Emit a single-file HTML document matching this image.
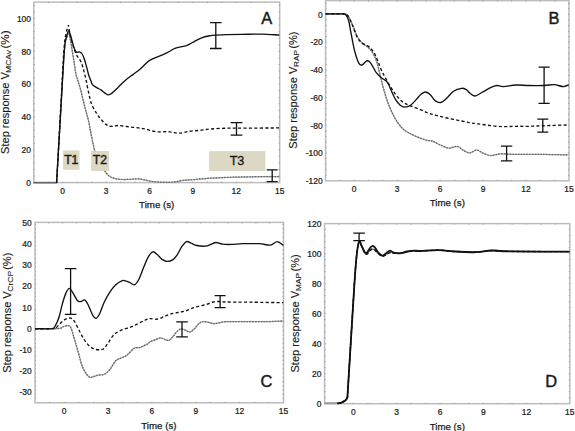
<!DOCTYPE html>
<html><head><meta charset="utf-8"><title>Step responses</title>
<style>
html,body{margin:0;padding:0;background:#fff;}
body{width:575px;height:431px;overflow:hidden;}
svg{display:block;font-family:"Liberation Sans",sans-serif;fill:#111;}
svg text{fill:#1a1a1a;stroke:#1a1a1a;stroke-width:0.25px;}
</style></head><body>
<svg width="575" height="431" viewBox="0 0 575 431">
<rect width="575" height="431" fill="#fff"/>
<rect x="33.8" y="2.1" width="245.9" height="180.5" fill="none" stroke="#bcbcbc" stroke-width="1.5"/>
<line x1="48.3" y1="182.6" x2="48.3" y2="181.6" stroke="#9a9a9a" stroke-width="1"/>
<line x1="62.7" y1="182.6" x2="62.7" y2="181.6" stroke="#9a9a9a" stroke-width="1"/>
<line x1="77.2" y1="182.6" x2="77.2" y2="181.6" stroke="#9a9a9a" stroke-width="1"/>
<line x1="91.7" y1="182.6" x2="91.7" y2="181.6" stroke="#9a9a9a" stroke-width="1"/>
<line x1="106.1" y1="182.6" x2="106.1" y2="181.6" stroke="#9a9a9a" stroke-width="1"/>
<line x1="120.6" y1="182.6" x2="120.6" y2="181.6" stroke="#9a9a9a" stroke-width="1"/>
<line x1="135.1" y1="182.6" x2="135.1" y2="181.6" stroke="#9a9a9a" stroke-width="1"/>
<line x1="149.5" y1="182.6" x2="149.5" y2="181.6" stroke="#9a9a9a" stroke-width="1"/>
<line x1="164.0" y1="182.6" x2="164.0" y2="181.6" stroke="#9a9a9a" stroke-width="1"/>
<line x1="178.4" y1="182.6" x2="178.4" y2="181.6" stroke="#9a9a9a" stroke-width="1"/>
<line x1="192.9" y1="182.6" x2="192.9" y2="181.6" stroke="#9a9a9a" stroke-width="1"/>
<line x1="207.4" y1="182.6" x2="207.4" y2="181.6" stroke="#9a9a9a" stroke-width="1"/>
<line x1="221.8" y1="182.6" x2="221.8" y2="181.6" stroke="#9a9a9a" stroke-width="1"/>
<line x1="236.3" y1="182.6" x2="236.3" y2="181.6" stroke="#9a9a9a" stroke-width="1"/>
<line x1="250.8" y1="182.6" x2="250.8" y2="181.6" stroke="#9a9a9a" stroke-width="1"/>
<line x1="265.2" y1="182.6" x2="265.2" y2="181.6" stroke="#9a9a9a" stroke-width="1"/>
<line x1="48.3" y1="2.1" x2="48.3" y2="3.1" stroke="#9a9a9a" stroke-width="1"/>
<line x1="62.7" y1="2.1" x2="62.7" y2="3.1" stroke="#9a9a9a" stroke-width="1"/>
<line x1="77.2" y1="2.1" x2="77.2" y2="3.1" stroke="#9a9a9a" stroke-width="1"/>
<line x1="91.7" y1="2.1" x2="91.7" y2="3.1" stroke="#9a9a9a" stroke-width="1"/>
<line x1="106.1" y1="2.1" x2="106.1" y2="3.1" stroke="#9a9a9a" stroke-width="1"/>
<line x1="120.6" y1="2.1" x2="120.6" y2="3.1" stroke="#9a9a9a" stroke-width="1"/>
<line x1="135.1" y1="2.1" x2="135.1" y2="3.1" stroke="#9a9a9a" stroke-width="1"/>
<line x1="149.5" y1="2.1" x2="149.5" y2="3.1" stroke="#9a9a9a" stroke-width="1"/>
<line x1="164.0" y1="2.1" x2="164.0" y2="3.1" stroke="#9a9a9a" stroke-width="1"/>
<line x1="178.4" y1="2.1" x2="178.4" y2="3.1" stroke="#9a9a9a" stroke-width="1"/>
<line x1="192.9" y1="2.1" x2="192.9" y2="3.1" stroke="#9a9a9a" stroke-width="1"/>
<line x1="207.4" y1="2.1" x2="207.4" y2="3.1" stroke="#9a9a9a" stroke-width="1"/>
<line x1="221.8" y1="2.1" x2="221.8" y2="3.1" stroke="#9a9a9a" stroke-width="1"/>
<line x1="236.3" y1="2.1" x2="236.3" y2="3.1" stroke="#9a9a9a" stroke-width="1"/>
<line x1="250.8" y1="2.1" x2="250.8" y2="3.1" stroke="#9a9a9a" stroke-width="1"/>
<line x1="265.2" y1="2.1" x2="265.2" y2="3.1" stroke="#9a9a9a" stroke-width="1"/>
<line x1="33.8" y1="176.0" x2="34.8" y2="176.0" stroke="#9a9a9a" stroke-width="1"/>
<line x1="279.7" y1="176.0" x2="278.7" y2="176.0" stroke="#9a9a9a" stroke-width="1"/>
<line x1="33.8" y1="169.5" x2="34.8" y2="169.5" stroke="#9a9a9a" stroke-width="1"/>
<line x1="279.7" y1="169.5" x2="278.7" y2="169.5" stroke="#9a9a9a" stroke-width="1"/>
<line x1="33.8" y1="162.9" x2="34.8" y2="162.9" stroke="#9a9a9a" stroke-width="1"/>
<line x1="279.7" y1="162.9" x2="278.7" y2="162.9" stroke="#9a9a9a" stroke-width="1"/>
<line x1="33.8" y1="156.3" x2="34.8" y2="156.3" stroke="#9a9a9a" stroke-width="1"/>
<line x1="279.7" y1="156.3" x2="278.7" y2="156.3" stroke="#9a9a9a" stroke-width="1"/>
<line x1="33.8" y1="149.8" x2="34.8" y2="149.8" stroke="#9a9a9a" stroke-width="1"/>
<line x1="279.7" y1="149.8" x2="278.7" y2="149.8" stroke="#9a9a9a" stroke-width="1"/>
<line x1="33.8" y1="143.2" x2="34.8" y2="143.2" stroke="#9a9a9a" stroke-width="1"/>
<line x1="279.7" y1="143.2" x2="278.7" y2="143.2" stroke="#9a9a9a" stroke-width="1"/>
<line x1="33.8" y1="136.7" x2="34.8" y2="136.7" stroke="#9a9a9a" stroke-width="1"/>
<line x1="279.7" y1="136.7" x2="278.7" y2="136.7" stroke="#9a9a9a" stroke-width="1"/>
<line x1="33.8" y1="130.1" x2="34.8" y2="130.1" stroke="#9a9a9a" stroke-width="1"/>
<line x1="279.7" y1="130.1" x2="278.7" y2="130.1" stroke="#9a9a9a" stroke-width="1"/>
<line x1="33.8" y1="123.5" x2="34.8" y2="123.5" stroke="#9a9a9a" stroke-width="1"/>
<line x1="279.7" y1="123.5" x2="278.7" y2="123.5" stroke="#9a9a9a" stroke-width="1"/>
<line x1="33.8" y1="117.0" x2="34.8" y2="117.0" stroke="#9a9a9a" stroke-width="1"/>
<line x1="279.7" y1="117.0" x2="278.7" y2="117.0" stroke="#9a9a9a" stroke-width="1"/>
<line x1="33.8" y1="110.4" x2="34.8" y2="110.4" stroke="#9a9a9a" stroke-width="1"/>
<line x1="279.7" y1="110.4" x2="278.7" y2="110.4" stroke="#9a9a9a" stroke-width="1"/>
<line x1="33.8" y1="103.8" x2="34.8" y2="103.8" stroke="#9a9a9a" stroke-width="1"/>
<line x1="279.7" y1="103.8" x2="278.7" y2="103.8" stroke="#9a9a9a" stroke-width="1"/>
<line x1="33.8" y1="97.3" x2="34.8" y2="97.3" stroke="#9a9a9a" stroke-width="1"/>
<line x1="279.7" y1="97.3" x2="278.7" y2="97.3" stroke="#9a9a9a" stroke-width="1"/>
<line x1="33.8" y1="90.7" x2="34.8" y2="90.7" stroke="#9a9a9a" stroke-width="1"/>
<line x1="279.7" y1="90.7" x2="278.7" y2="90.7" stroke="#9a9a9a" stroke-width="1"/>
<line x1="33.8" y1="84.1" x2="34.8" y2="84.1" stroke="#9a9a9a" stroke-width="1"/>
<line x1="279.7" y1="84.1" x2="278.7" y2="84.1" stroke="#9a9a9a" stroke-width="1"/>
<line x1="33.8" y1="77.6" x2="34.8" y2="77.6" stroke="#9a9a9a" stroke-width="1"/>
<line x1="279.7" y1="77.6" x2="278.7" y2="77.6" stroke="#9a9a9a" stroke-width="1"/>
<line x1="33.8" y1="71.0" x2="34.8" y2="71.0" stroke="#9a9a9a" stroke-width="1"/>
<line x1="279.7" y1="71.0" x2="278.7" y2="71.0" stroke="#9a9a9a" stroke-width="1"/>
<line x1="33.8" y1="64.5" x2="34.8" y2="64.5" stroke="#9a9a9a" stroke-width="1"/>
<line x1="279.7" y1="64.5" x2="278.7" y2="64.5" stroke="#9a9a9a" stroke-width="1"/>
<line x1="33.8" y1="57.9" x2="34.8" y2="57.9" stroke="#9a9a9a" stroke-width="1"/>
<line x1="279.7" y1="57.9" x2="278.7" y2="57.9" stroke="#9a9a9a" stroke-width="1"/>
<line x1="33.8" y1="51.3" x2="34.8" y2="51.3" stroke="#9a9a9a" stroke-width="1"/>
<line x1="279.7" y1="51.3" x2="278.7" y2="51.3" stroke="#9a9a9a" stroke-width="1"/>
<line x1="33.8" y1="44.8" x2="34.8" y2="44.8" stroke="#9a9a9a" stroke-width="1"/>
<line x1="279.7" y1="44.8" x2="278.7" y2="44.8" stroke="#9a9a9a" stroke-width="1"/>
<line x1="33.8" y1="38.2" x2="34.8" y2="38.2" stroke="#9a9a9a" stroke-width="1"/>
<line x1="279.7" y1="38.2" x2="278.7" y2="38.2" stroke="#9a9a9a" stroke-width="1"/>
<line x1="33.8" y1="31.6" x2="34.8" y2="31.6" stroke="#9a9a9a" stroke-width="1"/>
<line x1="279.7" y1="31.6" x2="278.7" y2="31.6" stroke="#9a9a9a" stroke-width="1"/>
<line x1="33.8" y1="25.1" x2="34.8" y2="25.1" stroke="#9a9a9a" stroke-width="1"/>
<line x1="279.7" y1="25.1" x2="278.7" y2="25.1" stroke="#9a9a9a" stroke-width="1"/>
<line x1="33.8" y1="18.5" x2="34.8" y2="18.5" stroke="#9a9a9a" stroke-width="1"/>
<line x1="279.7" y1="18.5" x2="278.7" y2="18.5" stroke="#9a9a9a" stroke-width="1"/>
<line x1="33.8" y1="11.9" x2="34.8" y2="11.9" stroke="#9a9a9a" stroke-width="1"/>
<line x1="279.7" y1="11.9" x2="278.7" y2="11.9" stroke="#9a9a9a" stroke-width="1"/>
<line x1="33.8" y1="5.4" x2="34.8" y2="5.4" stroke="#9a9a9a" stroke-width="1"/>
<line x1="279.7" y1="5.4" x2="278.7" y2="5.4" stroke="#9a9a9a" stroke-width="1"/>
<rect x="325.6" y="0.6" width="243.4" height="180.2" fill="none" stroke="#bcbcbc" stroke-width="1.5"/>
<line x1="339.9" y1="180.8" x2="339.9" y2="179.8" stroke="#9a9a9a" stroke-width="1"/>
<line x1="354.2" y1="180.8" x2="354.2" y2="179.8" stroke="#9a9a9a" stroke-width="1"/>
<line x1="368.6" y1="180.8" x2="368.6" y2="179.8" stroke="#9a9a9a" stroke-width="1"/>
<line x1="382.9" y1="180.8" x2="382.9" y2="179.8" stroke="#9a9a9a" stroke-width="1"/>
<line x1="397.2" y1="180.8" x2="397.2" y2="179.8" stroke="#9a9a9a" stroke-width="1"/>
<line x1="411.5" y1="180.8" x2="411.5" y2="179.8" stroke="#9a9a9a" stroke-width="1"/>
<line x1="425.8" y1="180.8" x2="425.8" y2="179.8" stroke="#9a9a9a" stroke-width="1"/>
<line x1="440.1" y1="180.8" x2="440.1" y2="179.8" stroke="#9a9a9a" stroke-width="1"/>
<line x1="454.5" y1="180.8" x2="454.5" y2="179.8" stroke="#9a9a9a" stroke-width="1"/>
<line x1="468.8" y1="180.8" x2="468.8" y2="179.8" stroke="#9a9a9a" stroke-width="1"/>
<line x1="483.1" y1="180.8" x2="483.1" y2="179.8" stroke="#9a9a9a" stroke-width="1"/>
<line x1="497.4" y1="180.8" x2="497.4" y2="179.8" stroke="#9a9a9a" stroke-width="1"/>
<line x1="511.7" y1="180.8" x2="511.7" y2="179.8" stroke="#9a9a9a" stroke-width="1"/>
<line x1="526.0" y1="180.8" x2="526.0" y2="179.8" stroke="#9a9a9a" stroke-width="1"/>
<line x1="540.4" y1="180.8" x2="540.4" y2="179.8" stroke="#9a9a9a" stroke-width="1"/>
<line x1="554.7" y1="180.8" x2="554.7" y2="179.8" stroke="#9a9a9a" stroke-width="1"/>
<line x1="339.9" y1="0.6" x2="339.9" y2="1.6" stroke="#9a9a9a" stroke-width="1"/>
<line x1="354.2" y1="0.6" x2="354.2" y2="1.6" stroke="#9a9a9a" stroke-width="1"/>
<line x1="368.6" y1="0.6" x2="368.6" y2="1.6" stroke="#9a9a9a" stroke-width="1"/>
<line x1="382.9" y1="0.6" x2="382.9" y2="1.6" stroke="#9a9a9a" stroke-width="1"/>
<line x1="397.2" y1="0.6" x2="397.2" y2="1.6" stroke="#9a9a9a" stroke-width="1"/>
<line x1="411.5" y1="0.6" x2="411.5" y2="1.6" stroke="#9a9a9a" stroke-width="1"/>
<line x1="425.8" y1="0.6" x2="425.8" y2="1.6" stroke="#9a9a9a" stroke-width="1"/>
<line x1="440.1" y1="0.6" x2="440.1" y2="1.6" stroke="#9a9a9a" stroke-width="1"/>
<line x1="454.5" y1="0.6" x2="454.5" y2="1.6" stroke="#9a9a9a" stroke-width="1"/>
<line x1="468.8" y1="0.6" x2="468.8" y2="1.6" stroke="#9a9a9a" stroke-width="1"/>
<line x1="483.1" y1="0.6" x2="483.1" y2="1.6" stroke="#9a9a9a" stroke-width="1"/>
<line x1="497.4" y1="0.6" x2="497.4" y2="1.6" stroke="#9a9a9a" stroke-width="1"/>
<line x1="511.7" y1="0.6" x2="511.7" y2="1.6" stroke="#9a9a9a" stroke-width="1"/>
<line x1="526.0" y1="0.6" x2="526.0" y2="1.6" stroke="#9a9a9a" stroke-width="1"/>
<line x1="540.4" y1="0.6" x2="540.4" y2="1.6" stroke="#9a9a9a" stroke-width="1"/>
<line x1="554.7" y1="0.6" x2="554.7" y2="1.6" stroke="#9a9a9a" stroke-width="1"/>
<line x1="325.6" y1="175.3" x2="326.6" y2="175.3" stroke="#9a9a9a" stroke-width="1"/>
<line x1="569.0" y1="175.3" x2="568.0" y2="175.3" stroke="#9a9a9a" stroke-width="1"/>
<line x1="325.6" y1="169.7" x2="326.6" y2="169.7" stroke="#9a9a9a" stroke-width="1"/>
<line x1="569.0" y1="169.7" x2="568.0" y2="169.7" stroke="#9a9a9a" stroke-width="1"/>
<line x1="325.6" y1="164.2" x2="326.6" y2="164.2" stroke="#9a9a9a" stroke-width="1"/>
<line x1="569.0" y1="164.2" x2="568.0" y2="164.2" stroke="#9a9a9a" stroke-width="1"/>
<line x1="325.6" y1="158.6" x2="326.6" y2="158.6" stroke="#9a9a9a" stroke-width="1"/>
<line x1="569.0" y1="158.6" x2="568.0" y2="158.6" stroke="#9a9a9a" stroke-width="1"/>
<line x1="325.6" y1="153.1" x2="326.6" y2="153.1" stroke="#9a9a9a" stroke-width="1"/>
<line x1="569.0" y1="153.1" x2="568.0" y2="153.1" stroke="#9a9a9a" stroke-width="1"/>
<line x1="325.6" y1="147.5" x2="326.6" y2="147.5" stroke="#9a9a9a" stroke-width="1"/>
<line x1="569.0" y1="147.5" x2="568.0" y2="147.5" stroke="#9a9a9a" stroke-width="1"/>
<line x1="325.6" y1="142.0" x2="326.6" y2="142.0" stroke="#9a9a9a" stroke-width="1"/>
<line x1="569.0" y1="142.0" x2="568.0" y2="142.0" stroke="#9a9a9a" stroke-width="1"/>
<line x1="325.6" y1="136.4" x2="326.6" y2="136.4" stroke="#9a9a9a" stroke-width="1"/>
<line x1="569.0" y1="136.4" x2="568.0" y2="136.4" stroke="#9a9a9a" stroke-width="1"/>
<line x1="325.6" y1="130.9" x2="326.6" y2="130.9" stroke="#9a9a9a" stroke-width="1"/>
<line x1="569.0" y1="130.9" x2="568.0" y2="130.9" stroke="#9a9a9a" stroke-width="1"/>
<line x1="325.6" y1="125.4" x2="326.6" y2="125.4" stroke="#9a9a9a" stroke-width="1"/>
<line x1="569.0" y1="125.4" x2="568.0" y2="125.4" stroke="#9a9a9a" stroke-width="1"/>
<line x1="325.6" y1="119.8" x2="326.6" y2="119.8" stroke="#9a9a9a" stroke-width="1"/>
<line x1="569.0" y1="119.8" x2="568.0" y2="119.8" stroke="#9a9a9a" stroke-width="1"/>
<line x1="325.6" y1="114.3" x2="326.6" y2="114.3" stroke="#9a9a9a" stroke-width="1"/>
<line x1="569.0" y1="114.3" x2="568.0" y2="114.3" stroke="#9a9a9a" stroke-width="1"/>
<line x1="325.6" y1="108.7" x2="326.6" y2="108.7" stroke="#9a9a9a" stroke-width="1"/>
<line x1="569.0" y1="108.7" x2="568.0" y2="108.7" stroke="#9a9a9a" stroke-width="1"/>
<line x1="325.6" y1="103.2" x2="326.6" y2="103.2" stroke="#9a9a9a" stroke-width="1"/>
<line x1="569.0" y1="103.2" x2="568.0" y2="103.2" stroke="#9a9a9a" stroke-width="1"/>
<line x1="325.6" y1="97.6" x2="326.6" y2="97.6" stroke="#9a9a9a" stroke-width="1"/>
<line x1="569.0" y1="97.6" x2="568.0" y2="97.6" stroke="#9a9a9a" stroke-width="1"/>
<line x1="325.6" y1="92.1" x2="326.6" y2="92.1" stroke="#9a9a9a" stroke-width="1"/>
<line x1="569.0" y1="92.1" x2="568.0" y2="92.1" stroke="#9a9a9a" stroke-width="1"/>
<line x1="325.6" y1="86.5" x2="326.6" y2="86.5" stroke="#9a9a9a" stroke-width="1"/>
<line x1="569.0" y1="86.5" x2="568.0" y2="86.5" stroke="#9a9a9a" stroke-width="1"/>
<line x1="325.6" y1="81.0" x2="326.6" y2="81.0" stroke="#9a9a9a" stroke-width="1"/>
<line x1="569.0" y1="81.0" x2="568.0" y2="81.0" stroke="#9a9a9a" stroke-width="1"/>
<line x1="325.6" y1="75.5" x2="326.6" y2="75.5" stroke="#9a9a9a" stroke-width="1"/>
<line x1="569.0" y1="75.5" x2="568.0" y2="75.5" stroke="#9a9a9a" stroke-width="1"/>
<line x1="325.6" y1="69.9" x2="326.6" y2="69.9" stroke="#9a9a9a" stroke-width="1"/>
<line x1="569.0" y1="69.9" x2="568.0" y2="69.9" stroke="#9a9a9a" stroke-width="1"/>
<line x1="325.6" y1="64.4" x2="326.6" y2="64.4" stroke="#9a9a9a" stroke-width="1"/>
<line x1="569.0" y1="64.4" x2="568.0" y2="64.4" stroke="#9a9a9a" stroke-width="1"/>
<line x1="325.6" y1="58.8" x2="326.6" y2="58.8" stroke="#9a9a9a" stroke-width="1"/>
<line x1="569.0" y1="58.8" x2="568.0" y2="58.8" stroke="#9a9a9a" stroke-width="1"/>
<line x1="325.6" y1="53.3" x2="326.6" y2="53.3" stroke="#9a9a9a" stroke-width="1"/>
<line x1="569.0" y1="53.3" x2="568.0" y2="53.3" stroke="#9a9a9a" stroke-width="1"/>
<line x1="325.6" y1="47.7" x2="326.6" y2="47.7" stroke="#9a9a9a" stroke-width="1"/>
<line x1="569.0" y1="47.7" x2="568.0" y2="47.7" stroke="#9a9a9a" stroke-width="1"/>
<line x1="325.6" y1="42.2" x2="326.6" y2="42.2" stroke="#9a9a9a" stroke-width="1"/>
<line x1="569.0" y1="42.2" x2="568.0" y2="42.2" stroke="#9a9a9a" stroke-width="1"/>
<line x1="325.6" y1="36.6" x2="326.6" y2="36.6" stroke="#9a9a9a" stroke-width="1"/>
<line x1="569.0" y1="36.6" x2="568.0" y2="36.6" stroke="#9a9a9a" stroke-width="1"/>
<line x1="325.6" y1="31.1" x2="326.6" y2="31.1" stroke="#9a9a9a" stroke-width="1"/>
<line x1="569.0" y1="31.1" x2="568.0" y2="31.1" stroke="#9a9a9a" stroke-width="1"/>
<line x1="325.6" y1="25.6" x2="326.6" y2="25.6" stroke="#9a9a9a" stroke-width="1"/>
<line x1="569.0" y1="25.6" x2="568.0" y2="25.6" stroke="#9a9a9a" stroke-width="1"/>
<line x1="325.6" y1="20.0" x2="326.6" y2="20.0" stroke="#9a9a9a" stroke-width="1"/>
<line x1="569.0" y1="20.0" x2="568.0" y2="20.0" stroke="#9a9a9a" stroke-width="1"/>
<line x1="325.6" y1="14.5" x2="326.6" y2="14.5" stroke="#9a9a9a" stroke-width="1"/>
<line x1="569.0" y1="14.5" x2="568.0" y2="14.5" stroke="#9a9a9a" stroke-width="1"/>
<line x1="325.6" y1="8.9" x2="326.6" y2="8.9" stroke="#9a9a9a" stroke-width="1"/>
<line x1="569.0" y1="8.9" x2="568.0" y2="8.9" stroke="#9a9a9a" stroke-width="1"/>
<line x1="325.6" y1="3.4" x2="326.6" y2="3.4" stroke="#9a9a9a" stroke-width="1"/>
<line x1="569.0" y1="3.4" x2="568.0" y2="3.4" stroke="#9a9a9a" stroke-width="1"/>
<rect x="35.0" y="222.4" width="248.5" height="180.4" fill="none" stroke="#bcbcbc" stroke-width="1.5"/>
<line x1="49.6" y1="402.8" x2="49.6" y2="401.8" stroke="#9a9a9a" stroke-width="1"/>
<line x1="64.2" y1="402.8" x2="64.2" y2="401.8" stroke="#9a9a9a" stroke-width="1"/>
<line x1="78.9" y1="402.8" x2="78.9" y2="401.8" stroke="#9a9a9a" stroke-width="1"/>
<line x1="93.5" y1="402.8" x2="93.5" y2="401.8" stroke="#9a9a9a" stroke-width="1"/>
<line x1="108.1" y1="402.8" x2="108.1" y2="401.8" stroke="#9a9a9a" stroke-width="1"/>
<line x1="122.7" y1="402.8" x2="122.7" y2="401.8" stroke="#9a9a9a" stroke-width="1"/>
<line x1="137.3" y1="402.8" x2="137.3" y2="401.8" stroke="#9a9a9a" stroke-width="1"/>
<line x1="151.9" y1="402.8" x2="151.9" y2="401.8" stroke="#9a9a9a" stroke-width="1"/>
<line x1="166.6" y1="402.8" x2="166.6" y2="401.8" stroke="#9a9a9a" stroke-width="1"/>
<line x1="181.2" y1="402.8" x2="181.2" y2="401.8" stroke="#9a9a9a" stroke-width="1"/>
<line x1="195.8" y1="402.8" x2="195.8" y2="401.8" stroke="#9a9a9a" stroke-width="1"/>
<line x1="210.4" y1="402.8" x2="210.4" y2="401.8" stroke="#9a9a9a" stroke-width="1"/>
<line x1="225.0" y1="402.8" x2="225.0" y2="401.8" stroke="#9a9a9a" stroke-width="1"/>
<line x1="239.6" y1="402.8" x2="239.6" y2="401.8" stroke="#9a9a9a" stroke-width="1"/>
<line x1="254.3" y1="402.8" x2="254.3" y2="401.8" stroke="#9a9a9a" stroke-width="1"/>
<line x1="268.9" y1="402.8" x2="268.9" y2="401.8" stroke="#9a9a9a" stroke-width="1"/>
<line x1="48.8" y1="222.4" x2="48.8" y2="223.4" stroke="#9a9a9a" stroke-width="1"/>
<line x1="62.6" y1="222.4" x2="62.6" y2="223.4" stroke="#9a9a9a" stroke-width="1"/>
<line x1="76.4" y1="222.4" x2="76.4" y2="223.4" stroke="#9a9a9a" stroke-width="1"/>
<line x1="90.2" y1="222.4" x2="90.2" y2="223.4" stroke="#9a9a9a" stroke-width="1"/>
<line x1="104.0" y1="222.4" x2="104.0" y2="223.4" stroke="#9a9a9a" stroke-width="1"/>
<line x1="117.8" y1="222.4" x2="117.8" y2="223.4" stroke="#9a9a9a" stroke-width="1"/>
<line x1="131.6" y1="222.4" x2="131.6" y2="223.4" stroke="#9a9a9a" stroke-width="1"/>
<line x1="145.4" y1="222.4" x2="145.4" y2="223.4" stroke="#9a9a9a" stroke-width="1"/>
<line x1="159.2" y1="222.4" x2="159.2" y2="223.4" stroke="#9a9a9a" stroke-width="1"/>
<line x1="173.1" y1="222.4" x2="173.1" y2="223.4" stroke="#9a9a9a" stroke-width="1"/>
<line x1="186.9" y1="222.4" x2="186.9" y2="223.4" stroke="#9a9a9a" stroke-width="1"/>
<line x1="200.7" y1="222.4" x2="200.7" y2="223.4" stroke="#9a9a9a" stroke-width="1"/>
<line x1="214.5" y1="222.4" x2="214.5" y2="223.4" stroke="#9a9a9a" stroke-width="1"/>
<line x1="228.3" y1="222.4" x2="228.3" y2="223.4" stroke="#9a9a9a" stroke-width="1"/>
<line x1="242.1" y1="222.4" x2="242.1" y2="223.4" stroke="#9a9a9a" stroke-width="1"/>
<line x1="255.9" y1="222.4" x2="255.9" y2="223.4" stroke="#9a9a9a" stroke-width="1"/>
<line x1="269.7" y1="222.4" x2="269.7" y2="223.4" stroke="#9a9a9a" stroke-width="1"/>
<line x1="35.0" y1="398.6" x2="36.0" y2="398.6" stroke="#9a9a9a" stroke-width="1"/>
<line x1="283.5" y1="398.6" x2="282.5" y2="398.6" stroke="#9a9a9a" stroke-width="1"/>
<line x1="35.0" y1="394.3" x2="36.0" y2="394.3" stroke="#9a9a9a" stroke-width="1"/>
<line x1="283.5" y1="394.3" x2="282.5" y2="394.3" stroke="#9a9a9a" stroke-width="1"/>
<line x1="35.0" y1="390.1" x2="36.0" y2="390.1" stroke="#9a9a9a" stroke-width="1"/>
<line x1="283.5" y1="390.1" x2="282.5" y2="390.1" stroke="#9a9a9a" stroke-width="1"/>
<line x1="35.0" y1="385.8" x2="36.0" y2="385.8" stroke="#9a9a9a" stroke-width="1"/>
<line x1="283.5" y1="385.8" x2="282.5" y2="385.8" stroke="#9a9a9a" stroke-width="1"/>
<line x1="35.0" y1="381.6" x2="36.0" y2="381.6" stroke="#9a9a9a" stroke-width="1"/>
<line x1="283.5" y1="381.6" x2="282.5" y2="381.6" stroke="#9a9a9a" stroke-width="1"/>
<line x1="35.0" y1="377.3" x2="36.0" y2="377.3" stroke="#9a9a9a" stroke-width="1"/>
<line x1="283.5" y1="377.3" x2="282.5" y2="377.3" stroke="#9a9a9a" stroke-width="1"/>
<line x1="35.0" y1="373.1" x2="36.0" y2="373.1" stroke="#9a9a9a" stroke-width="1"/>
<line x1="283.5" y1="373.1" x2="282.5" y2="373.1" stroke="#9a9a9a" stroke-width="1"/>
<line x1="35.0" y1="368.8" x2="36.0" y2="368.8" stroke="#9a9a9a" stroke-width="1"/>
<line x1="283.5" y1="368.8" x2="282.5" y2="368.8" stroke="#9a9a9a" stroke-width="1"/>
<line x1="35.0" y1="364.6" x2="36.0" y2="364.6" stroke="#9a9a9a" stroke-width="1"/>
<line x1="283.5" y1="364.6" x2="282.5" y2="364.6" stroke="#9a9a9a" stroke-width="1"/>
<line x1="35.0" y1="360.4" x2="36.0" y2="360.4" stroke="#9a9a9a" stroke-width="1"/>
<line x1="283.5" y1="360.4" x2="282.5" y2="360.4" stroke="#9a9a9a" stroke-width="1"/>
<line x1="35.0" y1="356.1" x2="36.0" y2="356.1" stroke="#9a9a9a" stroke-width="1"/>
<line x1="283.5" y1="356.1" x2="282.5" y2="356.1" stroke="#9a9a9a" stroke-width="1"/>
<line x1="35.0" y1="351.9" x2="36.0" y2="351.9" stroke="#9a9a9a" stroke-width="1"/>
<line x1="283.5" y1="351.9" x2="282.5" y2="351.9" stroke="#9a9a9a" stroke-width="1"/>
<line x1="35.0" y1="347.6" x2="36.0" y2="347.6" stroke="#9a9a9a" stroke-width="1"/>
<line x1="283.5" y1="347.6" x2="282.5" y2="347.6" stroke="#9a9a9a" stroke-width="1"/>
<line x1="35.0" y1="343.4" x2="36.0" y2="343.4" stroke="#9a9a9a" stroke-width="1"/>
<line x1="283.5" y1="343.4" x2="282.5" y2="343.4" stroke="#9a9a9a" stroke-width="1"/>
<line x1="35.0" y1="339.1" x2="36.0" y2="339.1" stroke="#9a9a9a" stroke-width="1"/>
<line x1="283.5" y1="339.1" x2="282.5" y2="339.1" stroke="#9a9a9a" stroke-width="1"/>
<line x1="35.0" y1="334.9" x2="36.0" y2="334.9" stroke="#9a9a9a" stroke-width="1"/>
<line x1="283.5" y1="334.9" x2="282.5" y2="334.9" stroke="#9a9a9a" stroke-width="1"/>
<line x1="35.0" y1="330.6" x2="36.0" y2="330.6" stroke="#9a9a9a" stroke-width="1"/>
<line x1="283.5" y1="330.6" x2="282.5" y2="330.6" stroke="#9a9a9a" stroke-width="1"/>
<line x1="35.0" y1="326.4" x2="36.0" y2="326.4" stroke="#9a9a9a" stroke-width="1"/>
<line x1="283.5" y1="326.4" x2="282.5" y2="326.4" stroke="#9a9a9a" stroke-width="1"/>
<line x1="35.0" y1="322.2" x2="36.0" y2="322.2" stroke="#9a9a9a" stroke-width="1"/>
<line x1="283.5" y1="322.2" x2="282.5" y2="322.2" stroke="#9a9a9a" stroke-width="1"/>
<line x1="35.0" y1="317.9" x2="36.0" y2="317.9" stroke="#9a9a9a" stroke-width="1"/>
<line x1="283.5" y1="317.9" x2="282.5" y2="317.9" stroke="#9a9a9a" stroke-width="1"/>
<line x1="35.0" y1="313.7" x2="36.0" y2="313.7" stroke="#9a9a9a" stroke-width="1"/>
<line x1="283.5" y1="313.7" x2="282.5" y2="313.7" stroke="#9a9a9a" stroke-width="1"/>
<line x1="35.0" y1="309.4" x2="36.0" y2="309.4" stroke="#9a9a9a" stroke-width="1"/>
<line x1="283.5" y1="309.4" x2="282.5" y2="309.4" stroke="#9a9a9a" stroke-width="1"/>
<line x1="35.0" y1="305.2" x2="36.0" y2="305.2" stroke="#9a9a9a" stroke-width="1"/>
<line x1="283.5" y1="305.2" x2="282.5" y2="305.2" stroke="#9a9a9a" stroke-width="1"/>
<line x1="35.0" y1="300.9" x2="36.0" y2="300.9" stroke="#9a9a9a" stroke-width="1"/>
<line x1="283.5" y1="300.9" x2="282.5" y2="300.9" stroke="#9a9a9a" stroke-width="1"/>
<line x1="35.0" y1="296.7" x2="36.0" y2="296.7" stroke="#9a9a9a" stroke-width="1"/>
<line x1="283.5" y1="296.7" x2="282.5" y2="296.7" stroke="#9a9a9a" stroke-width="1"/>
<line x1="35.0" y1="292.4" x2="36.0" y2="292.4" stroke="#9a9a9a" stroke-width="1"/>
<line x1="283.5" y1="292.4" x2="282.5" y2="292.4" stroke="#9a9a9a" stroke-width="1"/>
<line x1="35.0" y1="288.2" x2="36.0" y2="288.2" stroke="#9a9a9a" stroke-width="1"/>
<line x1="283.5" y1="288.2" x2="282.5" y2="288.2" stroke="#9a9a9a" stroke-width="1"/>
<line x1="35.0" y1="283.9" x2="36.0" y2="283.9" stroke="#9a9a9a" stroke-width="1"/>
<line x1="283.5" y1="283.9" x2="282.5" y2="283.9" stroke="#9a9a9a" stroke-width="1"/>
<line x1="35.0" y1="279.7" x2="36.0" y2="279.7" stroke="#9a9a9a" stroke-width="1"/>
<line x1="283.5" y1="279.7" x2="282.5" y2="279.7" stroke="#9a9a9a" stroke-width="1"/>
<line x1="35.0" y1="275.5" x2="36.0" y2="275.5" stroke="#9a9a9a" stroke-width="1"/>
<line x1="283.5" y1="275.5" x2="282.5" y2="275.5" stroke="#9a9a9a" stroke-width="1"/>
<line x1="35.0" y1="271.2" x2="36.0" y2="271.2" stroke="#9a9a9a" stroke-width="1"/>
<line x1="283.5" y1="271.2" x2="282.5" y2="271.2" stroke="#9a9a9a" stroke-width="1"/>
<line x1="35.0" y1="267.0" x2="36.0" y2="267.0" stroke="#9a9a9a" stroke-width="1"/>
<line x1="283.5" y1="267.0" x2="282.5" y2="267.0" stroke="#9a9a9a" stroke-width="1"/>
<line x1="35.0" y1="262.7" x2="36.0" y2="262.7" stroke="#9a9a9a" stroke-width="1"/>
<line x1="283.5" y1="262.7" x2="282.5" y2="262.7" stroke="#9a9a9a" stroke-width="1"/>
<line x1="35.0" y1="258.5" x2="36.0" y2="258.5" stroke="#9a9a9a" stroke-width="1"/>
<line x1="283.5" y1="258.5" x2="282.5" y2="258.5" stroke="#9a9a9a" stroke-width="1"/>
<line x1="35.0" y1="254.2" x2="36.0" y2="254.2" stroke="#9a9a9a" stroke-width="1"/>
<line x1="283.5" y1="254.2" x2="282.5" y2="254.2" stroke="#9a9a9a" stroke-width="1"/>
<line x1="35.0" y1="250.0" x2="36.0" y2="250.0" stroke="#9a9a9a" stroke-width="1"/>
<line x1="283.5" y1="250.0" x2="282.5" y2="250.0" stroke="#9a9a9a" stroke-width="1"/>
<line x1="35.0" y1="245.7" x2="36.0" y2="245.7" stroke="#9a9a9a" stroke-width="1"/>
<line x1="283.5" y1="245.7" x2="282.5" y2="245.7" stroke="#9a9a9a" stroke-width="1"/>
<line x1="35.0" y1="241.5" x2="36.0" y2="241.5" stroke="#9a9a9a" stroke-width="1"/>
<line x1="283.5" y1="241.5" x2="282.5" y2="241.5" stroke="#9a9a9a" stroke-width="1"/>
<line x1="35.0" y1="237.3" x2="36.0" y2="237.3" stroke="#9a9a9a" stroke-width="1"/>
<line x1="283.5" y1="237.3" x2="282.5" y2="237.3" stroke="#9a9a9a" stroke-width="1"/>
<line x1="35.0" y1="233.0" x2="36.0" y2="233.0" stroke="#9a9a9a" stroke-width="1"/>
<line x1="283.5" y1="233.0" x2="282.5" y2="233.0" stroke="#9a9a9a" stroke-width="1"/>
<line x1="35.0" y1="228.8" x2="36.0" y2="228.8" stroke="#9a9a9a" stroke-width="1"/>
<line x1="283.5" y1="228.8" x2="282.5" y2="228.8" stroke="#9a9a9a" stroke-width="1"/>
<line x1="35.0" y1="224.5" x2="36.0" y2="224.5" stroke="#9a9a9a" stroke-width="1"/>
<line x1="283.5" y1="224.5" x2="282.5" y2="224.5" stroke="#9a9a9a" stroke-width="1"/>
<rect x="324.6" y="223.6" width="245.2" height="180.1" fill="none" stroke="#bcbcbc" stroke-width="1.5"/>
<line x1="339.0" y1="403.7" x2="339.0" y2="402.7" stroke="#9a9a9a" stroke-width="1"/>
<line x1="353.4" y1="403.7" x2="353.4" y2="402.7" stroke="#9a9a9a" stroke-width="1"/>
<line x1="367.9" y1="403.7" x2="367.9" y2="402.7" stroke="#9a9a9a" stroke-width="1"/>
<line x1="382.3" y1="403.7" x2="382.3" y2="402.7" stroke="#9a9a9a" stroke-width="1"/>
<line x1="396.7" y1="403.7" x2="396.7" y2="402.7" stroke="#9a9a9a" stroke-width="1"/>
<line x1="411.1" y1="403.7" x2="411.1" y2="402.7" stroke="#9a9a9a" stroke-width="1"/>
<line x1="425.6" y1="403.7" x2="425.6" y2="402.7" stroke="#9a9a9a" stroke-width="1"/>
<line x1="440.0" y1="403.7" x2="440.0" y2="402.7" stroke="#9a9a9a" stroke-width="1"/>
<line x1="454.4" y1="403.7" x2="454.4" y2="402.7" stroke="#9a9a9a" stroke-width="1"/>
<line x1="468.8" y1="403.7" x2="468.8" y2="402.7" stroke="#9a9a9a" stroke-width="1"/>
<line x1="483.3" y1="403.7" x2="483.3" y2="402.7" stroke="#9a9a9a" stroke-width="1"/>
<line x1="497.7" y1="403.7" x2="497.7" y2="402.7" stroke="#9a9a9a" stroke-width="1"/>
<line x1="512.1" y1="403.7" x2="512.1" y2="402.7" stroke="#9a9a9a" stroke-width="1"/>
<line x1="526.5" y1="403.7" x2="526.5" y2="402.7" stroke="#9a9a9a" stroke-width="1"/>
<line x1="541.0" y1="403.7" x2="541.0" y2="402.7" stroke="#9a9a9a" stroke-width="1"/>
<line x1="555.4" y1="403.7" x2="555.4" y2="402.7" stroke="#9a9a9a" stroke-width="1"/>
<line x1="339.0" y1="223.6" x2="339.0" y2="224.6" stroke="#9a9a9a" stroke-width="1"/>
<line x1="353.4" y1="223.6" x2="353.4" y2="224.6" stroke="#9a9a9a" stroke-width="1"/>
<line x1="367.9" y1="223.6" x2="367.9" y2="224.6" stroke="#9a9a9a" stroke-width="1"/>
<line x1="382.3" y1="223.6" x2="382.3" y2="224.6" stroke="#9a9a9a" stroke-width="1"/>
<line x1="396.7" y1="223.6" x2="396.7" y2="224.6" stroke="#9a9a9a" stroke-width="1"/>
<line x1="411.1" y1="223.6" x2="411.1" y2="224.6" stroke="#9a9a9a" stroke-width="1"/>
<line x1="425.6" y1="223.6" x2="425.6" y2="224.6" stroke="#9a9a9a" stroke-width="1"/>
<line x1="440.0" y1="223.6" x2="440.0" y2="224.6" stroke="#9a9a9a" stroke-width="1"/>
<line x1="454.4" y1="223.6" x2="454.4" y2="224.6" stroke="#9a9a9a" stroke-width="1"/>
<line x1="468.8" y1="223.6" x2="468.8" y2="224.6" stroke="#9a9a9a" stroke-width="1"/>
<line x1="483.3" y1="223.6" x2="483.3" y2="224.6" stroke="#9a9a9a" stroke-width="1"/>
<line x1="497.7" y1="223.6" x2="497.7" y2="224.6" stroke="#9a9a9a" stroke-width="1"/>
<line x1="512.1" y1="223.6" x2="512.1" y2="224.6" stroke="#9a9a9a" stroke-width="1"/>
<line x1="526.5" y1="223.6" x2="526.5" y2="224.6" stroke="#9a9a9a" stroke-width="1"/>
<line x1="541.0" y1="223.6" x2="541.0" y2="224.6" stroke="#9a9a9a" stroke-width="1"/>
<line x1="555.4" y1="223.6" x2="555.4" y2="224.6" stroke="#9a9a9a" stroke-width="1"/>
<line x1="324.6" y1="397.7" x2="325.6" y2="397.7" stroke="#9a9a9a" stroke-width="1"/>
<line x1="569.8" y1="397.7" x2="568.8" y2="397.7" stroke="#9a9a9a" stroke-width="1"/>
<line x1="324.6" y1="391.7" x2="325.6" y2="391.7" stroke="#9a9a9a" stroke-width="1"/>
<line x1="569.8" y1="391.7" x2="568.8" y2="391.7" stroke="#9a9a9a" stroke-width="1"/>
<line x1="324.6" y1="385.7" x2="325.6" y2="385.7" stroke="#9a9a9a" stroke-width="1"/>
<line x1="569.8" y1="385.7" x2="568.8" y2="385.7" stroke="#9a9a9a" stroke-width="1"/>
<line x1="324.6" y1="379.7" x2="325.6" y2="379.7" stroke="#9a9a9a" stroke-width="1"/>
<line x1="569.8" y1="379.7" x2="568.8" y2="379.7" stroke="#9a9a9a" stroke-width="1"/>
<line x1="324.6" y1="373.7" x2="325.6" y2="373.7" stroke="#9a9a9a" stroke-width="1"/>
<line x1="569.8" y1="373.7" x2="568.8" y2="373.7" stroke="#9a9a9a" stroke-width="1"/>
<line x1="324.6" y1="367.7" x2="325.6" y2="367.7" stroke="#9a9a9a" stroke-width="1"/>
<line x1="569.8" y1="367.7" x2="568.8" y2="367.7" stroke="#9a9a9a" stroke-width="1"/>
<line x1="324.6" y1="361.7" x2="325.6" y2="361.7" stroke="#9a9a9a" stroke-width="1"/>
<line x1="569.8" y1="361.7" x2="568.8" y2="361.7" stroke="#9a9a9a" stroke-width="1"/>
<line x1="324.6" y1="355.7" x2="325.6" y2="355.7" stroke="#9a9a9a" stroke-width="1"/>
<line x1="569.8" y1="355.7" x2="568.8" y2="355.7" stroke="#9a9a9a" stroke-width="1"/>
<line x1="324.6" y1="349.7" x2="325.6" y2="349.7" stroke="#9a9a9a" stroke-width="1"/>
<line x1="569.8" y1="349.7" x2="568.8" y2="349.7" stroke="#9a9a9a" stroke-width="1"/>
<line x1="324.6" y1="343.7" x2="325.6" y2="343.7" stroke="#9a9a9a" stroke-width="1"/>
<line x1="569.8" y1="343.7" x2="568.8" y2="343.7" stroke="#9a9a9a" stroke-width="1"/>
<line x1="324.6" y1="337.7" x2="325.6" y2="337.7" stroke="#9a9a9a" stroke-width="1"/>
<line x1="569.8" y1="337.7" x2="568.8" y2="337.7" stroke="#9a9a9a" stroke-width="1"/>
<line x1="324.6" y1="331.7" x2="325.6" y2="331.7" stroke="#9a9a9a" stroke-width="1"/>
<line x1="569.8" y1="331.7" x2="568.8" y2="331.7" stroke="#9a9a9a" stroke-width="1"/>
<line x1="324.6" y1="325.7" x2="325.6" y2="325.7" stroke="#9a9a9a" stroke-width="1"/>
<line x1="569.8" y1="325.7" x2="568.8" y2="325.7" stroke="#9a9a9a" stroke-width="1"/>
<line x1="324.6" y1="319.7" x2="325.6" y2="319.7" stroke="#9a9a9a" stroke-width="1"/>
<line x1="569.8" y1="319.7" x2="568.8" y2="319.7" stroke="#9a9a9a" stroke-width="1"/>
<line x1="324.6" y1="313.6" x2="325.6" y2="313.6" stroke="#9a9a9a" stroke-width="1"/>
<line x1="569.8" y1="313.6" x2="568.8" y2="313.6" stroke="#9a9a9a" stroke-width="1"/>
<line x1="324.6" y1="307.6" x2="325.6" y2="307.6" stroke="#9a9a9a" stroke-width="1"/>
<line x1="569.8" y1="307.6" x2="568.8" y2="307.6" stroke="#9a9a9a" stroke-width="1"/>
<line x1="324.6" y1="301.6" x2="325.6" y2="301.6" stroke="#9a9a9a" stroke-width="1"/>
<line x1="569.8" y1="301.6" x2="568.8" y2="301.6" stroke="#9a9a9a" stroke-width="1"/>
<line x1="324.6" y1="295.6" x2="325.6" y2="295.6" stroke="#9a9a9a" stroke-width="1"/>
<line x1="569.8" y1="295.6" x2="568.8" y2="295.6" stroke="#9a9a9a" stroke-width="1"/>
<line x1="324.6" y1="289.6" x2="325.6" y2="289.6" stroke="#9a9a9a" stroke-width="1"/>
<line x1="569.8" y1="289.6" x2="568.8" y2="289.6" stroke="#9a9a9a" stroke-width="1"/>
<line x1="324.6" y1="283.6" x2="325.6" y2="283.6" stroke="#9a9a9a" stroke-width="1"/>
<line x1="569.8" y1="283.6" x2="568.8" y2="283.6" stroke="#9a9a9a" stroke-width="1"/>
<line x1="324.6" y1="277.6" x2="325.6" y2="277.6" stroke="#9a9a9a" stroke-width="1"/>
<line x1="569.8" y1="277.6" x2="568.8" y2="277.6" stroke="#9a9a9a" stroke-width="1"/>
<line x1="324.6" y1="271.6" x2="325.6" y2="271.6" stroke="#9a9a9a" stroke-width="1"/>
<line x1="569.8" y1="271.6" x2="568.8" y2="271.6" stroke="#9a9a9a" stroke-width="1"/>
<line x1="324.6" y1="265.6" x2="325.6" y2="265.6" stroke="#9a9a9a" stroke-width="1"/>
<line x1="569.8" y1="265.6" x2="568.8" y2="265.6" stroke="#9a9a9a" stroke-width="1"/>
<line x1="324.6" y1="259.6" x2="325.6" y2="259.6" stroke="#9a9a9a" stroke-width="1"/>
<line x1="569.8" y1="259.6" x2="568.8" y2="259.6" stroke="#9a9a9a" stroke-width="1"/>
<line x1="324.6" y1="253.6" x2="325.6" y2="253.6" stroke="#9a9a9a" stroke-width="1"/>
<line x1="569.8" y1="253.6" x2="568.8" y2="253.6" stroke="#9a9a9a" stroke-width="1"/>
<line x1="324.6" y1="247.6" x2="325.6" y2="247.6" stroke="#9a9a9a" stroke-width="1"/>
<line x1="569.8" y1="247.6" x2="568.8" y2="247.6" stroke="#9a9a9a" stroke-width="1"/>
<line x1="324.6" y1="241.6" x2="325.6" y2="241.6" stroke="#9a9a9a" stroke-width="1"/>
<line x1="569.8" y1="241.6" x2="568.8" y2="241.6" stroke="#9a9a9a" stroke-width="1"/>
<line x1="324.6" y1="235.6" x2="325.6" y2="235.6" stroke="#9a9a9a" stroke-width="1"/>
<line x1="569.8" y1="235.6" x2="568.8" y2="235.6" stroke="#9a9a9a" stroke-width="1"/>
<line x1="324.6" y1="229.6" x2="325.6" y2="229.6" stroke="#9a9a9a" stroke-width="1"/>
<line x1="569.8" y1="229.6" x2="568.8" y2="229.6" stroke="#9a9a9a" stroke-width="1"/>
<text transform="translate(62.7 193.7) scale(0.880 1)" font-size="9.6" text-anchor="middle" >0</text>
<text transform="translate(106.1 193.7) scale(0.880 1)" font-size="9.6" text-anchor="middle" >3</text>
<text transform="translate(149.5 193.7) scale(0.880 1)" font-size="9.6" text-anchor="middle" >6</text>
<text transform="translate(192.9 193.7) scale(0.880 1)" font-size="9.6" text-anchor="middle" >9</text>
<text transform="translate(236.3 193.7) scale(0.880 1)" font-size="9.6" text-anchor="middle" >12</text>
<text transform="translate(279.7 193.7) scale(0.880 1)" font-size="9.6" text-anchor="middle" >15</text>
<text transform="translate(354.2 192.0) scale(0.880 1)" font-size="9.6" text-anchor="middle" >0</text>
<text transform="translate(397.2 192.0) scale(0.880 1)" font-size="9.6" text-anchor="middle" >3</text>
<text transform="translate(440.1 192.0) scale(0.880 1)" font-size="9.6" text-anchor="middle" >6</text>
<text transform="translate(483.1 192.0) scale(0.880 1)" font-size="9.6" text-anchor="middle" >9</text>
<text transform="translate(526.0 192.0) scale(0.880 1)" font-size="9.6" text-anchor="middle" >12</text>
<text transform="translate(569.0 192.0) scale(0.880 1)" font-size="9.6" text-anchor="middle" >15</text>
<text transform="translate(64.2 414.0) scale(0.880 1)" font-size="9.6" text-anchor="middle" >0</text>
<text transform="translate(108.1 414.0) scale(0.880 1)" font-size="9.6" text-anchor="middle" >3</text>
<text transform="translate(151.9 414.0) scale(0.880 1)" font-size="9.6" text-anchor="middle" >6</text>
<text transform="translate(195.8 414.0) scale(0.880 1)" font-size="9.6" text-anchor="middle" >9</text>
<text transform="translate(239.6 414.0) scale(0.880 1)" font-size="9.6" text-anchor="middle" >12</text>
<text transform="translate(283.5 414.0) scale(0.880 1)" font-size="9.6" text-anchor="middle" >15</text>
<text transform="translate(353.4 415.0) scale(0.880 1)" font-size="9.6" text-anchor="middle" >0</text>
<text transform="translate(396.7 415.0) scale(0.880 1)" font-size="9.6" text-anchor="middle" >3</text>
<text transform="translate(440.0 415.0) scale(0.880 1)" font-size="9.6" text-anchor="middle" >6</text>
<text transform="translate(483.3 415.0) scale(0.880 1)" font-size="9.6" text-anchor="middle" >9</text>
<text transform="translate(526.5 415.0) scale(0.880 1)" font-size="9.6" text-anchor="middle" >12</text>
<text transform="translate(569.8 415.0) scale(0.880 1)" font-size="9.6" text-anchor="middle" >15</text>
<text transform="translate(31.0 185.8) scale(0.880 1)" font-size="9.6" text-anchor="end" >0</text>
<text transform="translate(31.0 153.0) scale(0.880 1)" font-size="9.6" text-anchor="end" >20</text>
<text transform="translate(31.0 120.2) scale(0.880 1)" font-size="9.6" text-anchor="end" >40</text>
<text transform="translate(31.0 87.3) scale(0.880 1)" font-size="9.6" text-anchor="end" >60</text>
<text transform="translate(31.0 54.5) scale(0.880 1)" font-size="9.6" text-anchor="end" >80</text>
<text transform="translate(31.0 21.7) scale(0.880 1)" font-size="9.6" text-anchor="end" >100</text>
<text transform="translate(322.6 17.7) scale(0.880 1)" font-size="9.6" text-anchor="end" >0</text>
<text transform="translate(322.6 45.4) scale(0.880 1)" font-size="9.6" text-anchor="end" >-20</text>
<text transform="translate(322.6 73.1) scale(0.880 1)" font-size="9.6" text-anchor="end" >-40</text>
<text transform="translate(322.6 100.8) scale(0.880 1)" font-size="9.6" text-anchor="end" >-60</text>
<text transform="translate(322.6 128.6) scale(0.880 1)" font-size="9.6" text-anchor="end" >-80</text>
<text transform="translate(322.6 156.3) scale(0.880 1)" font-size="9.6" text-anchor="end" >-100</text>
<text transform="translate(322.6 184.0) scale(0.880 1)" font-size="9.6" text-anchor="end" >-120</text>
<text transform="translate(31.7 225.6) scale(0.880 1)" font-size="9.6" text-anchor="end" >50</text>
<text transform="translate(31.7 246.8) scale(0.880 1)" font-size="9.6" text-anchor="end" >40</text>
<text transform="translate(31.7 268.0) scale(0.880 1)" font-size="9.6" text-anchor="end" >30</text>
<text transform="translate(31.7 289.3) scale(0.880 1)" font-size="9.6" text-anchor="end" >20</text>
<text transform="translate(31.7 310.5) scale(0.880 1)" font-size="9.6" text-anchor="end" >10</text>
<text transform="translate(31.7 331.7) scale(0.880 1)" font-size="9.6" text-anchor="end" >0</text>
<text transform="translate(31.7 352.9) scale(0.880 1)" font-size="9.6" text-anchor="end" >-10</text>
<text transform="translate(31.7 374.2) scale(0.880 1)" font-size="9.6" text-anchor="end" >-20</text>
<text transform="translate(31.7 395.4) scale(0.880 1)" font-size="9.6" text-anchor="end" >-30</text>
<text transform="translate(321.4 406.9) scale(0.880 1)" font-size="9.6" text-anchor="end" >0</text>
<text transform="translate(321.4 376.9) scale(0.880 1)" font-size="9.6" text-anchor="end" >20</text>
<text transform="translate(321.4 346.9) scale(0.880 1)" font-size="9.6" text-anchor="end" >40</text>
<text transform="translate(321.4 316.8) scale(0.880 1)" font-size="9.6" text-anchor="end" >60</text>
<text transform="translate(321.4 286.8) scale(0.880 1)" font-size="9.6" text-anchor="end" >80</text>
<text transform="translate(321.4 256.8) scale(0.880 1)" font-size="9.6" text-anchor="end" >100</text>
<text transform="translate(321.4 226.8) scale(0.880 1)" font-size="9.6" text-anchor="end" >120</text>
<text x="156.7" y="208.3" font-size="9.7" text-anchor="middle" >Time (s)</text>
<text x="447.3" y="206.0" font-size="9.7" text-anchor="middle" >Time (s)</text>
<text x="158.9" y="428.7" font-size="9.7" text-anchor="middle" >Time (s)</text>
<text x="447.3" y="429.7" font-size="9.7" text-anchor="middle" >Time (s)</text>
<text transform="translate(8.5 154.0) rotate(-90)" style="stroke-width:0.12px" font-size="10.8" textLength="81.9" lengthAdjust="spacingAndGlyphs">Step response V</text><text transform="translate(10.7 72.9) rotate(-90)" style="stroke-width:0.12px" font-size="7.6" textLength="23.0" lengthAdjust="spacingAndGlyphs">MCAv</text><text transform="translate(8.5 48.5) rotate(-90)" style="stroke-width:0.12px" font-size="10.6" textLength="18.1" lengthAdjust="spacingAndGlyphs">(%)</text>
<text transform="translate(297.0 148.7) rotate(-90)" style="stroke-width:0.12px" font-size="10.8" textLength="82.0" lengthAdjust="spacingAndGlyphs">Step response V</text><text transform="translate(299.2 66.9) rotate(-90)" style="stroke-width:0.12px" font-size="7.6" textLength="17.0" lengthAdjust="spacingAndGlyphs">RAP</text><text transform="translate(297.0 48.8) rotate(-90)" style="stroke-width:0.12px" font-size="10.6" textLength="17.4" lengthAdjust="spacingAndGlyphs">(%)</text>
<text transform="translate(11.1 372.7) rotate(-90)" style="stroke-width:0.12px" font-size="10.8" textLength="81.4" lengthAdjust="spacingAndGlyphs">Step response V</text><text transform="translate(13.3 291.8) rotate(-90)" style="stroke-width:0.12px" font-size="7.6" textLength="21.0" lengthAdjust="spacingAndGlyphs">CrCP</text><text transform="translate(11.1 269.9) rotate(-90)" style="stroke-width:0.12px" font-size="10.6" textLength="17.4" lengthAdjust="spacingAndGlyphs">(%)</text>
<text transform="translate(298.7 372.5) rotate(-90)" style="stroke-width:0.12px" font-size="10.8" textLength="81.5" lengthAdjust="spacingAndGlyphs">Step response V</text><text transform="translate(300.9 290.9) rotate(-90)" style="stroke-width:0.12px" font-size="7.6" textLength="18.1" lengthAdjust="spacingAndGlyphs">MAP</text><text transform="translate(298.7 271.4) rotate(-90)" style="stroke-width:0.12px" font-size="10.6" textLength="17.1" lengthAdjust="spacingAndGlyphs">(%)</text>
<text x="261.2" y="24.4" font-size="16.4" text-anchor="start" style="stroke-width:0.45px">A</text>
<text x="548.4" y="23.8" font-size="16.4" text-anchor="start" style="stroke-width:0.45px">B</text>
<text x="260.4" y="386.6" font-size="16.4" text-anchor="start" style="stroke-width:0.45px">C</text>
<text x="545.2" y="386.9" font-size="16.4" text-anchor="start" style="stroke-width:0.45px">D</text>
<rect x="63.1" y="150.4" width="16.4" height="19.3" fill="#dcd8c3"/>
<rect x="91.2" y="151.2" width="17.6" height="19.6" fill="#dcd8c3"/>
<rect x="209.1" y="151.1" width="56.3" height="19.9" fill="#dcd8c3"/>
<path d="M33.4 182.7 H57" stroke="#686868" stroke-width="1.7"/>
<path d="M56.6 182.6 C57.3 170.5 59.5 132.1 60.8 110.0 C62.1 87.9 63.4 62.0 64.4 50.0 C65.4 38.0 65.8 40.8 66.6 38.0 C67.3 35.2 68.2 32.5 68.9 33.0 C69.6 33.5 70.0 37.7 70.6 41.0 C71.2 44.3 71.9 49.0 72.6 53.0 C73.2 57.0 74.0 61.5 74.5 65.0 C75.0 68.5 75.4 71.4 75.9 74.0 C76.5 76.6 77.1 78.1 77.8 80.5 C78.5 82.9 79.3 85.0 80.3 88.5 C81.2 92.0 82.5 97.7 83.5 101.5 C84.5 105.3 85.2 108.5 86.0 111.5 C86.8 114.5 87.5 116.2 88.2 119.4 C89.0 122.7 89.7 127.1 90.5 131.0 C91.3 134.9 92.1 139.3 92.8 142.6 C93.5 145.9 94.0 148.2 94.7 150.8 C95.4 153.5 96.2 156.2 97.2 158.5 C98.2 160.8 99.2 162.5 100.4 164.5 C101.6 166.5 103.0 168.6 104.4 170.5 C105.9 172.4 107.3 174.7 109.1 176.0 C110.8 177.3 112.7 178.0 114.9 178.6 C117.1 179.2 120.0 179.4 122.5 179.5 C125.0 179.6 127.2 179.4 130.0 179.3 C132.8 179.2 135.9 178.6 139.2 178.9 C142.5 179.2 146.2 180.4 149.7 181.0 C153.2 181.6 156.3 182.0 160.1 182.2 C163.9 182.4 168.8 182.5 172.6 182.2 C176.4 181.9 179.4 180.8 183.1 180.4 C186.8 180.0 190.5 179.9 195.0 179.5 C199.5 179.1 204.2 178.6 210.0 178.2 C215.8 177.8 223.3 177.5 230.0 177.3 C236.7 177.1 241.8 176.9 250.0 176.8 C258.2 176.7 274.4 176.6 279.3 176.6" fill="none" stroke="#a4a4a4" stroke-width="1.25" stroke-linejoin="round"/><path d="M56.6 182.6 C57.3 170.5 59.5 132.1 60.8 110.0 C62.1 87.9 63.4 62.0 64.4 50.0 C65.4 38.0 65.8 40.8 66.6 38.0 C67.3 35.2 68.2 32.5 68.9 33.0 C69.6 33.5 70.0 37.7 70.6 41.0 C71.2 44.3 71.9 49.0 72.6 53.0 C73.2 57.0 74.0 61.5 74.5 65.0 C75.0 68.5 75.4 71.4 75.9 74.0 C76.5 76.6 77.1 78.1 77.8 80.5 C78.5 82.9 79.3 85.0 80.3 88.5 C81.2 92.0 82.5 97.7 83.5 101.5 C84.5 105.3 85.2 108.5 86.0 111.5 C86.8 114.5 87.5 116.2 88.2 119.4 C89.0 122.7 89.7 127.1 90.5 131.0 C91.3 134.9 92.1 139.3 92.8 142.6 C93.5 145.9 94.0 148.2 94.7 150.8 C95.4 153.5 96.2 156.2 97.2 158.5 C98.2 160.8 99.2 162.5 100.4 164.5 C101.6 166.5 103.0 168.6 104.4 170.5 C105.9 172.4 107.3 174.7 109.1 176.0 C110.8 177.3 112.7 178.0 114.9 178.6 C117.1 179.2 120.0 179.4 122.5 179.5 C125.0 179.6 127.2 179.4 130.0 179.3 C132.8 179.2 135.9 178.6 139.2 178.9 C142.5 179.2 146.2 180.4 149.7 181.0 C153.2 181.6 156.3 182.0 160.1 182.2 C163.9 182.4 168.8 182.5 172.6 182.2 C176.4 181.9 179.4 180.8 183.1 180.4 C186.8 180.0 190.5 179.9 195.0 179.5 C199.5 179.1 204.2 178.6 210.0 178.2 C215.8 177.8 223.3 177.5 230.0 177.3 C236.7 177.1 241.8 176.9 250.0 176.8 C258.2 176.7 274.4 176.6 279.3 176.6" fill="none" stroke="#666666" stroke-width="1.25" stroke-dasharray="1.5 1.3"/>
<rect x="91.2" y="151.2" width="17.6" height="19.6" fill="#dcd8c3"/>
<path d="M56.6 182.6 C57.3 170.5 59.4 131.8 60.6 110.0 C61.8 88.2 62.9 64.7 63.8 52.0 C64.7 39.3 65.1 38.5 65.9 34.0 C66.7 29.5 68.0 26.7 68.4 25.2 C68.7 26.9 69.5 32.1 70.3 35.5 C71.1 38.9 72.0 42.4 73.1 45.6 C74.1 48.9 75.4 52.4 76.6 55.0 C77.8 57.6 79.5 59.0 80.5 61.0 C81.5 63.0 82.2 65.1 82.9 67.2 C83.6 69.3 83.9 71.2 84.5 73.5 C85.1 75.8 85.6 77.8 86.3 81.0 C87.0 84.2 87.7 88.6 88.6 92.5 C89.5 96.4 90.3 101.0 91.7 104.5 C93.1 108.0 95.2 111.0 96.7 113.5 C98.2 116.0 99.4 117.4 100.9 119.2 C102.4 121.0 104.0 122.9 105.6 124.1 C107.2 125.3 108.4 126.2 110.5 126.4 C112.6 126.6 115.0 125.4 118.4 125.5 C121.8 125.6 126.7 126.6 130.9 127.1 C135.1 127.6 139.2 127.8 143.4 128.6 C147.6 129.4 151.7 131.2 155.9 131.7 C160.1 132.2 164.7 131.4 168.5 131.7 C172.3 131.9 175.4 133.3 178.9 133.2 C182.4 133.1 185.8 131.8 189.3 131.3 C192.8 130.8 196.4 130.7 200.0 130.3 C203.6 129.9 206.2 129.3 210.6 129.0 C215.0 128.7 221.1 128.3 226.3 128.2 C231.5 128.1 233.2 128.2 242.0 128.2 C250.8 128.1 273.1 128.0 279.3 127.9" fill="none" stroke="#111" stroke-width="1.35" stroke-dasharray="3.1 2.3"/>
<path d="M56.6 182.6 C57.3 170.5 59.5 132.1 60.8 110.0 C62.1 87.9 63.4 62.2 64.4 50.0 C65.4 37.8 65.9 39.7 66.6 36.5 C67.3 33.3 67.9 31.3 68.5 31.0 C69.1 30.7 69.6 32.6 70.3 34.5 C71.0 36.4 71.7 39.8 72.4 42.2 C73.1 44.6 73.8 47.4 74.5 49.1 C75.2 50.8 75.8 51.8 76.6 52.3 C77.4 52.8 78.5 51.6 79.4 51.9 C80.3 52.2 81.4 52.7 82.2 54.0 C83.0 55.3 83.8 57.3 84.5 59.5 C85.2 61.7 85.9 64.5 86.6 67.0 C87.3 69.5 87.9 72.4 88.5 74.5 C89.1 76.6 89.7 77.8 90.4 79.5 C91.1 81.2 91.5 83.2 92.5 84.6 C93.5 85.9 95.3 86.7 96.7 87.6 C98.1 88.5 99.5 89.0 100.9 89.9 C102.3 90.8 103.9 92.3 105.1 93.1 C106.3 93.9 107.1 94.8 108.3 94.8 C109.5 94.8 110.5 94.2 112.0 93.1 C113.5 91.9 115.5 89.9 117.6 87.9 C119.7 85.9 122.0 83.1 124.6 80.9 C127.1 78.7 130.3 76.5 132.9 74.6 C135.5 72.6 137.7 71.2 140.0 69.2 C142.3 67.2 145.0 64.1 147.0 62.4 C149.0 60.7 150.2 60.1 152.0 59.2 C153.8 58.3 155.0 57.8 157.5 56.8 C160.0 55.8 163.9 54.3 166.8 52.9 C169.7 51.5 172.2 49.4 174.9 48.3 C177.6 47.2 180.9 46.9 183.0 46.4 C185.1 45.9 185.7 46.1 187.6 45.2 C189.5 44.4 192.3 42.5 194.6 41.3 C196.9 40.1 199.3 38.7 201.6 37.8 C203.9 36.9 206.1 36.4 208.5 36.0 C210.9 35.6 212.8 35.4 215.8 35.2 C218.8 35.0 221.9 34.8 226.3 34.7 C230.7 34.6 236.0 34.5 242.0 34.4 C248.0 34.3 256.1 34.0 262.3 34.1 C268.5 34.2 276.5 34.9 279.3 35.0" fill="none" stroke="#111" stroke-width="1.35" stroke-linejoin="round"/>
<path d="M210.0 22.7 H221.6 M210.0 48.5 H221.6 M215.8 22.7 V48.5" stroke="#111" stroke-width="1.30" fill="none"/>
<path d="M230.6 122.7 H242.4 M230.6 135.2 H242.4 M236.5 122.7 V135.2" stroke="#111" stroke-width="1.30" fill="none"/>
<path d="M266.7 169.9 H277.7 M266.7 181.6 H277.7 M272.2 169.9 V181.6" stroke="#111" stroke-width="1.30" fill="none"/>
<text x="71.3" y="164.3" font-size="12.2" text-anchor="middle" style="stroke-width:0.4px">T1</text>
<text x="99.9" y="164.2" font-size="12.2" text-anchor="middle" style="stroke-width:0.4px">T2</text>
<text x="237.0" y="164.6" font-size="12.6" text-anchor="middle" style="stroke-width:0.3px">T3</text>
<path d="M325.6 13.9 C328.5 13.9 339.5 13.6 343.2 13.9 C346.9 14.2 346.2 13.8 347.8 15.6 C349.4 17.4 350.9 21.6 352.5 25.0 C354.1 28.4 355.6 33.4 357.1 36.3 C358.7 39.2 359.9 40.6 361.8 42.5 C363.7 44.4 366.8 45.9 368.7 47.8 C370.6 49.7 372.0 51.5 373.4 54.0 C374.8 56.5 375.8 58.8 377.0 62.5 C378.2 66.2 379.2 71.8 380.4 76.4 C381.5 81.0 382.6 85.6 383.9 90.0 C385.2 94.4 386.3 98.6 388.0 103.0 C389.7 107.4 391.8 112.4 394.0 116.5 C396.2 120.6 399.2 124.8 401.5 127.5 C403.8 130.2 405.5 131.0 408.0 132.5 C410.5 134.0 413.4 135.3 416.4 136.6 C419.3 137.8 423.0 139.2 425.7 140.0 C428.4 140.8 430.3 140.4 432.6 141.2 C434.9 142.0 436.9 143.5 439.6 144.7 C442.3 145.9 446.0 147.9 448.9 148.2 C451.8 148.5 454.7 146.0 457.0 146.3 C459.3 146.6 460.9 148.9 462.8 150.0 C464.7 151.1 467.1 152.4 468.5 152.8 C469.9 153.2 470.1 152.8 471.5 152.3 C472.9 151.8 475.1 149.9 477.0 150.0 C478.9 150.1 480.6 152.2 482.9 153.1 C485.1 154.0 487.5 155.4 490.5 155.5 C493.5 155.6 496.4 154.1 500.7 153.9 C504.9 153.7 509.2 154.3 516.0 154.4 C522.8 154.5 532.8 154.3 541.5 154.4 C550.2 154.5 564.0 154.8 568.5 154.9" fill="none" stroke="#a4a4a4" stroke-width="1.25" stroke-linejoin="round"/><path d="M325.6 13.9 C328.5 13.9 339.5 13.6 343.2 13.9 C346.9 14.2 346.2 13.8 347.8 15.6 C349.4 17.4 350.9 21.6 352.5 25.0 C354.1 28.4 355.6 33.4 357.1 36.3 C358.7 39.2 359.9 40.6 361.8 42.5 C363.7 44.4 366.8 45.9 368.7 47.8 C370.6 49.7 372.0 51.5 373.4 54.0 C374.8 56.5 375.8 58.8 377.0 62.5 C378.2 66.2 379.2 71.8 380.4 76.4 C381.5 81.0 382.6 85.6 383.9 90.0 C385.2 94.4 386.3 98.6 388.0 103.0 C389.7 107.4 391.8 112.4 394.0 116.5 C396.2 120.6 399.2 124.8 401.5 127.5 C403.8 130.2 405.5 131.0 408.0 132.5 C410.5 134.0 413.4 135.3 416.4 136.6 C419.3 137.8 423.0 139.2 425.7 140.0 C428.4 140.8 430.3 140.4 432.6 141.2 C434.9 142.0 436.9 143.5 439.6 144.7 C442.3 145.9 446.0 147.9 448.9 148.2 C451.8 148.5 454.7 146.0 457.0 146.3 C459.3 146.6 460.9 148.9 462.8 150.0 C464.7 151.1 467.1 152.4 468.5 152.8 C469.9 153.2 470.1 152.8 471.5 152.3 C472.9 151.8 475.1 149.9 477.0 150.0 C478.9 150.1 480.6 152.2 482.9 153.1 C485.1 154.0 487.5 155.4 490.5 155.5 C493.5 155.6 496.4 154.1 500.7 153.9 C504.9 153.7 509.2 154.3 516.0 154.4 C522.8 154.5 532.8 154.3 541.5 154.4 C550.2 154.5 564.0 154.8 568.5 154.9" fill="none" stroke="#666666" stroke-width="1.25" stroke-dasharray="1.5 1.3"/>
<path d="M325.6 13.9 C328.5 13.9 339.5 13.6 343.2 13.9 C346.9 14.2 346.2 13.9 347.8 15.8 C349.4 17.7 350.9 21.9 352.5 25.5 C354.1 29.1 355.6 34.2 357.1 37.1 C358.7 40.0 359.9 41.3 361.8 42.9 C363.7 44.5 366.8 45.1 368.7 46.6 C370.6 48.1 372.0 49.7 373.5 52.0 C375.0 54.3 376.3 57.3 377.7 60.5 C379.1 63.7 380.0 67.2 381.8 71.0 C383.6 74.8 386.3 79.6 388.6 83.5 C390.9 87.4 393.2 91.2 395.5 94.3 C397.8 97.3 400.2 99.9 402.5 101.8 C404.8 103.7 406.7 104.2 409.4 105.4 C412.1 106.6 415.6 107.7 418.7 108.9 C421.8 110.2 424.9 111.8 428.0 112.9 C431.1 114.0 433.8 114.8 437.3 115.7 C440.8 116.6 445.0 117.7 448.9 118.5 C452.8 119.3 457.0 120.1 460.5 120.8 C464.0 121.5 467.1 122.3 470.0 122.8 C472.9 123.3 474.4 123.3 477.8 123.8 C481.2 124.3 486.2 125.1 490.5 125.6 C494.8 126.1 499.1 126.5 503.3 126.6 C507.6 126.7 511.8 126.3 516.0 126.3 C520.2 126.2 524.5 126.4 528.8 126.3 C533.0 126.2 534.9 126.0 541.5 125.8 C548.1 125.6 564.0 125.1 568.5 125.0" fill="none" stroke="#111" stroke-width="1.35" stroke-dasharray="3.1 2.3"/>
<path d="M325.6 13.9 C328.5 13.9 339.9 13.8 343.2 13.9 C346.5 14.1 344.9 14.2 345.6 14.8 C346.3 15.4 346.7 16.0 347.3 17.2 C347.9 18.4 348.5 19.8 349.0 22.0 C349.5 24.2 349.9 27.1 350.5 30.3 C351.1 33.5 351.9 37.9 352.6 41.4 C353.3 44.9 353.9 48.1 354.7 51.2 C355.5 54.3 356.7 58.0 357.5 60.2 C358.3 62.4 358.8 63.4 359.6 64.2 C360.4 65.0 361.2 65.3 362.4 64.8 C363.6 64.2 365.5 61.4 366.6 60.9 C367.8 60.4 368.3 60.7 369.3 61.6 C370.3 62.5 371.7 64.8 372.8 66.5 C373.9 68.2 374.4 70.0 375.7 71.8 C377.0 73.5 378.7 75.5 380.4 77.0 C382.1 78.5 384.7 79.8 386.1 81.0 C387.5 82.2 387.8 83.0 388.6 84.5 C389.4 86.0 389.8 87.3 390.9 89.8 C392.0 92.3 393.9 96.8 395.5 99.4 C397.1 102.0 398.6 103.9 400.2 105.2 C401.8 106.5 403.1 107.1 404.8 107.1 C406.5 107.1 408.7 106.5 410.6 105.2 C412.5 103.9 414.7 101.2 416.4 99.4 C418.1 97.6 419.4 95.5 421.0 94.3 C422.6 93.1 424.1 91.9 425.7 92.0 C427.2 92.1 428.8 93.4 430.3 94.8 C431.9 96.2 433.2 99.3 435.0 100.6 C436.8 101.9 438.9 102.9 440.8 102.5 C442.7 102.1 444.5 100.2 446.6 98.3 C448.7 96.4 451.0 93.0 453.5 91.3 C456.0 89.6 459.5 88.6 461.6 88.3 C463.7 88.0 464.9 88.9 466.3 89.7 C467.7 90.5 468.6 92.2 470.1 93.2 C471.6 94.2 473.1 96.2 475.2 96.0 C477.3 95.8 480.3 93.3 482.9 91.9 C485.4 90.5 488.2 88.7 490.5 87.6 C492.8 86.5 494.8 85.7 496.9 85.5 C499.0 85.3 500.1 86.7 503.3 86.6 C506.5 86.5 511.8 85.2 516.0 85.0 C520.2 84.8 524.1 85.4 528.8 85.5 C533.5 85.6 539.9 85.6 544.1 85.5 C548.4 85.4 551.1 84.5 554.3 84.7 C557.5 84.9 560.8 86.6 563.2 86.6 C565.6 86.6 567.9 85.0 568.8 84.7" fill="none" stroke="#111" stroke-width="1.35" stroke-linejoin="round"/>
<path d="M538.5 67.1 H549.7 M538.5 103.4 H549.7 M544.1 67.1 V103.4" stroke="#111" stroke-width="1.30" fill="none"/>
<path d="M537.3 119.2 H548.3 M537.3 132.2 H548.3 M542.8 119.2 V132.2" stroke="#111" stroke-width="1.30" fill="none"/>
<path d="M500.9 146.2 H512.3 M500.9 160.8 H512.3 M506.6 146.2 V160.8" stroke="#111" stroke-width="1.30" fill="none"/>
<path d="M35.0 328.7 C37.8 328.7 47.8 328.8 52.0 328.7 C56.2 328.6 58.0 328.7 60.0 328.3 C62.0 327.9 62.3 326.9 63.7 326.5 C65.1 326.1 67.1 325.3 68.3 325.6 C69.5 325.9 70.0 325.8 71.1 328.3 C72.2 330.8 73.5 336.2 74.8 340.4 C76.0 344.6 77.3 349.1 78.6 353.4 C79.8 357.7 80.9 362.8 82.3 366.4 C83.7 369.9 85.5 372.8 86.9 374.7 C88.3 376.6 88.9 377.4 90.6 377.5 C92.3 377.6 94.8 375.9 97.1 375.3 C99.4 374.8 102.3 375.2 104.5 374.2 C106.7 373.2 108.2 371.4 110.1 369.2 C112.0 367.0 113.8 362.7 115.7 360.8 C117.6 358.9 119.4 358.9 121.2 358.0 C123.0 357.1 124.6 356.9 126.8 355.3 C129.0 353.7 132.0 349.5 134.2 348.2 C136.4 346.9 137.6 348.2 139.8 347.5 C142.0 346.8 145.5 345.1 147.2 344.1 C148.9 343.2 148.6 342.5 150.0 341.8 C151.4 341.1 153.9 340.4 155.6 339.7 C157.3 339.0 159.0 338.0 160.4 337.9 C161.8 337.8 162.5 338.6 163.9 339.0 C165.3 339.4 167.3 340.8 168.8 340.4 C170.3 340.0 171.7 337.9 173.0 336.5 C174.3 335.1 175.2 333.2 176.5 332.0 C177.8 330.8 179.2 329.4 180.6 329.0 C182.0 328.6 183.3 329.4 184.8 329.9 C186.3 330.4 188.1 332.2 189.7 332.0 C191.3 331.8 193.1 330.0 194.6 328.6 C196.1 327.2 197.3 324.9 198.7 323.7 C200.1 322.5 201.3 321.8 202.9 321.6 C204.5 321.4 206.6 322.0 208.5 322.3 C210.4 322.6 211.7 323.7 214.5 323.6 C217.3 323.5 220.9 322.0 225.6 321.7 C230.2 321.4 235.9 321.7 242.4 321.7 C248.9 321.7 257.8 321.8 264.6 321.7 C271.4 321.6 280.3 321.2 283.4 321.1" fill="none" stroke="#a4a4a4" stroke-width="1.25" stroke-linejoin="round"/><path d="M35.0 328.7 C37.8 328.7 47.8 328.8 52.0 328.7 C56.2 328.6 58.0 328.7 60.0 328.3 C62.0 327.9 62.3 326.9 63.7 326.5 C65.1 326.1 67.1 325.3 68.3 325.6 C69.5 325.9 70.0 325.8 71.1 328.3 C72.2 330.8 73.5 336.2 74.8 340.4 C76.0 344.6 77.3 349.1 78.6 353.4 C79.8 357.7 80.9 362.8 82.3 366.4 C83.7 369.9 85.5 372.8 86.9 374.7 C88.3 376.6 88.9 377.4 90.6 377.5 C92.3 377.6 94.8 375.9 97.1 375.3 C99.4 374.8 102.3 375.2 104.5 374.2 C106.7 373.2 108.2 371.4 110.1 369.2 C112.0 367.0 113.8 362.7 115.7 360.8 C117.6 358.9 119.4 358.9 121.2 358.0 C123.0 357.1 124.6 356.9 126.8 355.3 C129.0 353.7 132.0 349.5 134.2 348.2 C136.4 346.9 137.6 348.2 139.8 347.5 C142.0 346.8 145.5 345.1 147.2 344.1 C148.9 343.2 148.6 342.5 150.0 341.8 C151.4 341.1 153.9 340.4 155.6 339.7 C157.3 339.0 159.0 338.0 160.4 337.9 C161.8 337.8 162.5 338.6 163.9 339.0 C165.3 339.4 167.3 340.8 168.8 340.4 C170.3 340.0 171.7 337.9 173.0 336.5 C174.3 335.1 175.2 333.2 176.5 332.0 C177.8 330.8 179.2 329.4 180.6 329.0 C182.0 328.6 183.3 329.4 184.8 329.9 C186.3 330.4 188.1 332.2 189.7 332.0 C191.3 331.8 193.1 330.0 194.6 328.6 C196.1 327.2 197.3 324.9 198.7 323.7 C200.1 322.5 201.3 321.8 202.9 321.6 C204.5 321.4 206.6 322.0 208.5 322.3 C210.4 322.6 211.7 323.7 214.5 323.6 C217.3 323.5 220.9 322.0 225.6 321.7 C230.2 321.4 235.9 321.7 242.4 321.7 C248.9 321.7 257.8 321.8 264.6 321.7 C271.4 321.6 280.3 321.2 283.4 321.1" fill="none" stroke="#666666" stroke-width="1.25" stroke-dasharray="1.5 1.3"/>
<path d="M35.0 328.7 C37.8 328.7 48.6 328.8 52.0 328.7 C55.4 328.6 54.2 329.1 55.5 328.3 C56.8 327.5 58.6 325.0 59.9 323.7 C61.2 322.4 62.2 321.5 63.4 320.6 C64.6 319.8 65.8 319.0 67.0 318.6 C68.2 318.2 69.4 317.8 70.6 318.2 C71.8 318.6 72.8 318.9 74.1 320.8 C75.4 322.7 77.1 326.5 78.7 329.5 C80.3 332.5 82.0 336.2 83.8 339.0 C85.6 341.8 87.6 344.5 89.5 346.2 C91.4 347.9 93.1 348.7 95.0 349.3 C96.9 349.9 99.5 349.8 101.0 349.7 C102.5 349.6 102.8 349.7 104.0 348.5 C105.2 347.3 106.9 344.8 108.5 342.5 C110.1 340.2 111.7 336.9 113.8 334.8 C115.9 332.8 118.4 331.5 121.2 330.2 C124.0 328.9 127.7 328.2 130.5 327.1 C133.3 326.0 135.4 324.9 137.9 323.7 C140.4 322.5 143.3 320.9 145.3 320.0 C147.3 319.1 148.1 318.7 150.0 318.6 C151.9 318.5 154.7 319.5 157.0 319.2 C159.3 318.9 161.6 317.6 163.9 316.7 C166.2 315.8 168.6 314.6 170.9 313.9 C173.2 313.2 175.6 312.9 177.9 312.5 C180.2 312.1 182.5 311.9 184.8 311.2 C187.1 310.5 189.5 309.2 191.8 308.4 C194.1 307.6 196.3 306.9 198.7 306.3 C201.1 305.7 203.7 305.3 206.1 304.6 C208.5 303.9 210.9 302.5 213.2 302.0 C215.5 301.5 218.0 301.5 220.0 301.5 C222.0 301.5 219.9 301.9 225.0 302.0 C230.1 302.1 241.0 302.1 250.7 302.2 C260.4 302.3 277.9 302.6 283.4 302.7" fill="none" stroke="#111" stroke-width="1.35" stroke-dasharray="3.1 2.3"/>
<path d="M35.0 328.7 C37.8 328.7 48.6 329.2 52.0 328.7 C55.4 328.1 54.3 327.3 55.5 325.4 C56.7 323.5 57.8 321.0 59.0 317.3 C60.2 313.6 61.3 307.5 62.5 303.4 C63.7 299.3 64.8 295.4 66.0 292.9 C67.2 290.4 68.2 288.3 69.4 288.3 C70.6 288.3 71.5 290.8 72.9 292.9 C74.3 295.0 76.2 299.4 77.6 300.8 C78.9 302.2 79.8 301.6 81.0 301.5 C82.2 301.4 83.3 299.4 84.5 299.9 C85.7 300.4 86.7 302.0 88.0 304.5 C89.3 307.0 91.2 312.7 92.6 315.0 C93.9 317.3 94.9 318.6 96.1 318.4 C97.3 318.2 98.2 316.5 99.6 313.8 C100.9 311.1 102.5 305.9 104.2 302.2 C105.9 298.5 108.1 294.7 110.0 291.8 C111.9 288.9 113.7 286.7 115.8 284.8 C117.9 282.9 120.8 281.2 122.4 280.6 C124.0 280.0 124.3 280.6 125.5 280.9 C126.7 281.2 128.1 281.8 129.6 282.4 C131.1 283.0 132.8 285.3 134.3 284.8 C135.9 284.3 137.4 282.1 138.9 279.2 C140.4 276.3 142.1 271.3 143.6 267.6 C145.1 263.9 146.7 259.7 148.2 257.1 C149.7 254.5 151.2 252.2 152.8 251.8 C154.4 251.4 155.9 253.5 157.5 254.8 C159.1 256.1 160.5 258.3 162.1 259.4 C163.7 260.5 165.1 261.2 166.8 261.3 C168.6 261.4 170.9 261.0 172.6 259.9 C174.3 258.8 175.7 257.0 177.2 254.8 C178.7 252.6 180.2 248.9 181.8 246.7 C183.4 244.5 184.9 242.2 186.5 241.6 C188.1 241.0 189.4 242.5 191.1 243.2 C192.8 243.8 194.5 245.0 196.9 245.5 C199.3 246.0 203.2 246.4 205.5 246.2 C207.8 246.0 209.1 245.0 210.8 244.4 C212.6 243.8 214.1 242.5 216.0 242.5 C217.9 242.5 219.7 243.9 222.4 244.2 C225.1 244.5 228.7 244.5 232.0 244.4 C235.3 244.3 237.9 243.8 242.4 243.7 C246.9 243.6 254.5 243.5 259.1 243.7 C263.7 243.9 267.2 245.4 270.2 245.1 C273.2 244.8 275.0 241.6 277.2 241.7 C279.4 241.8 282.4 244.8 283.4 245.4" fill="none" stroke="#111" stroke-width="1.35" stroke-linejoin="round"/>
<path d="M64.8 268.6 H76.4 M64.8 314.3 H76.4 M70.6 268.6 V314.3" stroke="#111" stroke-width="1.30" fill="none"/>
<path d="M214.6 295.6 H225.6 M214.6 307.7 H225.6 M220.1 295.6 V307.7" stroke="#111" stroke-width="1.30" fill="none"/>
<path d="M176.2 321.9 H187.8 M176.2 336.9 H187.8 M182.0 321.9 V336.9" stroke="#111" stroke-width="1.30" fill="none"/>
<path d="M324.6 403.2 H338" stroke="#9a9a9a" stroke-width="2"/>
<path d="M337.4 403.4 C338.0 403.3 339.6 403.3 341.0 402.8 C342.4 402.3 344.4 401.2 345.5 400.3 C346.6 399.4 347.1 398.1 347.4 397.6 C348.5 380.0 352.4 315.6 353.9 292.0 C355.4 268.4 355.7 264.4 356.6 256.0 C357.5 247.6 358.2 243.3 359.1 241.7 C360.0 240.1 360.7 244.5 361.7 246.5 C362.7 248.5 364.1 252.2 365.0 253.5 C365.9 254.8 366.4 254.5 367.2 254.0 C368.0 253.5 369.1 251.3 370.0 250.5 C370.9 249.7 371.8 249.0 372.7 249.0 C373.6 249.0 374.4 249.7 375.3 250.5 C376.2 251.3 377.2 252.8 378.4 253.7 C379.6 254.6 381.2 256.1 382.6 256.2 C384.0 256.3 385.6 254.8 386.8 254.2 C388.0 253.6 388.9 252.8 389.9 252.6 C390.9 252.4 391.8 252.9 393.0 253.0 C394.2 253.1 395.8 253.4 397.2 253.4 C398.6 253.4 399.7 253.5 401.4 253.2 C403.1 252.9 405.0 252.2 407.2 251.8 C409.4 251.4 412.5 250.9 414.6 250.8 C416.7 250.7 416.0 251.1 420.0 251.0 C424.0 250.9 432.7 250.1 438.7 250.2 C444.7 250.3 449.8 251.2 456.0 251.5 C462.2 251.8 470.0 252.4 476.0 252.2 C482.0 252.0 486.1 250.6 491.8 250.5 C497.5 250.4 497.4 251.2 510.4 251.4 C523.4 251.6 559.7 251.6 569.6 251.6" fill="none" stroke="#a4a4a4" stroke-width="1.25" stroke-linejoin="round"/><path d="M337.4 403.4 C338.0 403.3 339.6 403.3 341.0 402.8 C342.4 402.3 344.4 401.2 345.5 400.3 C346.6 399.4 347.1 398.1 347.4 397.6 C348.5 380.0 352.4 315.6 353.9 292.0 C355.4 268.4 355.7 264.4 356.6 256.0 C357.5 247.6 358.2 243.3 359.1 241.7 C360.0 240.1 360.7 244.5 361.7 246.5 C362.7 248.5 364.1 252.2 365.0 253.5 C365.9 254.8 366.4 254.5 367.2 254.0 C368.0 253.5 369.1 251.3 370.0 250.5 C370.9 249.7 371.8 249.0 372.7 249.0 C373.6 249.0 374.4 249.7 375.3 250.5 C376.2 251.3 377.2 252.8 378.4 253.7 C379.6 254.6 381.2 256.1 382.6 256.2 C384.0 256.3 385.6 254.8 386.8 254.2 C388.0 253.6 388.9 252.8 389.9 252.6 C390.9 252.4 391.8 252.9 393.0 253.0 C394.2 253.1 395.8 253.4 397.2 253.4 C398.6 253.4 399.7 253.5 401.4 253.2 C403.1 252.9 405.0 252.2 407.2 251.8 C409.4 251.4 412.5 250.9 414.6 250.8 C416.7 250.7 416.0 251.1 420.0 251.0 C424.0 250.9 432.7 250.1 438.7 250.2 C444.7 250.3 449.8 251.2 456.0 251.5 C462.2 251.8 470.0 252.4 476.0 252.2 C482.0 252.0 486.1 250.6 491.8 250.5 C497.5 250.4 497.4 251.2 510.4 251.4 C523.4 251.6 559.7 251.6 569.6 251.6" fill="none" stroke="#666666" stroke-width="1.25" stroke-dasharray="1.5 1.3"/>
<path d="M337.4 403.4 C338.0 403.3 339.6 403.3 341.0 402.8 C342.4 402.3 344.4 401.2 345.5 400.3 C346.6 399.4 347.1 398.1 347.4 397.6 C348.5 380.0 352.4 315.6 353.9 292.0 C355.4 268.4 355.7 264.4 356.6 256.0 C357.5 247.6 358.2 243.3 359.1 241.7 C360.0 240.1 360.7 244.5 361.7 246.5 C362.7 248.5 364.1 252.2 365.0 253.5 C365.9 254.8 366.4 254.5 367.2 254.0 C368.0 253.5 369.1 251.3 370.0 250.5 C370.9 249.7 371.8 249.0 372.7 249.0 C373.6 249.0 374.4 249.7 375.3 250.5 C376.2 251.3 377.2 252.8 378.4 253.7 C379.6 254.6 381.2 256.1 382.6 256.2 C384.0 256.3 385.6 254.8 386.8 254.2 C388.0 253.6 388.9 252.8 389.9 252.6 C390.9 252.4 391.8 252.9 393.0 253.0 C394.2 253.1 395.8 253.4 397.2 253.4 C398.6 253.4 399.7 253.5 401.4 253.2 C403.1 252.9 405.0 252.2 407.2 251.8 C409.4 251.4 412.5 250.9 414.6 250.8 C416.7 250.7 416.0 251.1 420.0 251.0 C424.0 250.9 432.7 250.1 438.7 250.2 C444.7 250.3 449.8 251.2 456.0 251.5 C462.2 251.8 470.0 252.4 476.0 252.2 C482.0 252.0 486.1 250.6 491.8 250.5 C497.5 250.4 497.4 251.2 510.4 251.4 C523.4 251.6 559.7 251.6 569.6 251.6" fill="none" stroke="#111" stroke-width="1.40" stroke-dasharray="3.1 2.3"/>
<path d="M337.4 403.4 C338.0 403.3 339.6 403.3 341.0 402.8 C342.4 402.3 344.4 401.2 345.5 400.3 C346.6 399.4 347.1 398.1 347.4 397.6 C348.5 380.0 352.4 315.6 353.9 292.0 C355.4 268.4 355.7 264.4 356.6 256.0 C357.5 247.6 358.2 243.4 359.1 241.7 C360.0 240.0 360.8 244.1 361.7 245.9 C362.6 247.7 363.9 251.2 364.8 252.3 C365.7 253.4 366.0 253.4 366.9 252.7 C367.8 252.0 369.0 249.1 370.0 248.0 C371.0 246.9 371.8 245.9 372.7 245.9 C373.6 245.9 374.4 246.9 375.3 248.0 C376.2 249.1 377.2 251.4 378.4 252.7 C379.6 254.0 381.2 255.6 382.6 255.6 C384.0 255.6 385.6 253.5 386.8 252.7 C388.0 251.9 388.9 250.7 389.9 250.6 C390.9 250.5 391.8 251.9 393.0 252.3 C394.2 252.7 395.8 253.0 397.2 253.2 C398.6 253.3 399.7 253.5 401.4 253.2 C403.1 252.9 405.0 251.9 407.2 251.5 C409.4 251.1 412.5 250.7 414.6 250.6 C416.7 250.5 416.0 251.1 420.0 251.0 C424.0 250.9 432.7 250.1 438.7 250.2 C444.7 250.3 449.8 251.2 456.0 251.5 C462.2 251.8 470.0 252.4 476.0 252.2 C482.0 252.0 486.1 250.6 491.8 250.5 C497.5 250.4 497.4 251.2 510.4 251.4 C523.4 251.6 559.7 251.6 569.6 251.6" fill="none" stroke="#111" stroke-width="1.80" stroke-linejoin="round"/>
<path d="M353.3 233.1 H364.9 M353.3 240.7 H364.9 M359.1 233.1 V240.7" stroke="#111" stroke-width="1.30" fill="none"/>
</svg>
</body></html>
